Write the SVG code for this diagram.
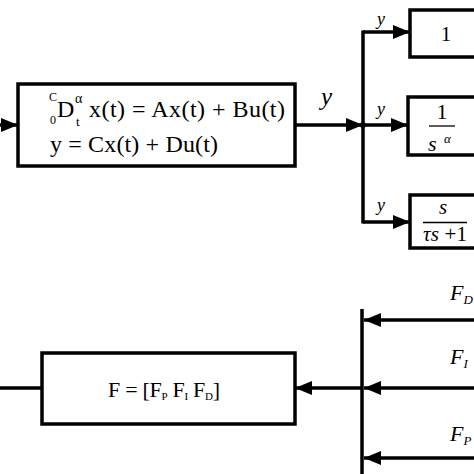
<svg xmlns="http://www.w3.org/2000/svg" width="474" height="474" viewBox="0 0 474 474">
<defs>
<marker id="arr" markerUnits="userSpaceOnUse" markerWidth="18" markerHeight="14" refX="17" refY="7" orient="auto">
<path d="M0,0 L17,7 L0,14 z" fill="#000"/>
</marker>
</defs>
<style>
.box{fill:#fff;stroke:#000;stroke-width:3.5}
.ln{fill:none;stroke:#000;stroke-width:3.5}
.t{font-family:"Liberation Serif","Times New Roman",serif;fill:#000}
.i{font-style:italic}
</style>
<rect width="474" height="474" fill="#fff"/>
<g id="connectors">
<line class="ln" x1="0" y1="125" x2="18" y2="125" marker-end="url(#arr)"/>
<line class="ln" x1="295" y1="125" x2="363" y2="125" marker-end="url(#arr)"/>
<line class="ln" x1="363" y1="30.5" x2="363" y2="223.5"/>
<line class="ln" x1="363" y1="32" x2="410" y2="32" marker-end="url(#arr)"/>
<line class="ln" x1="363" y1="125" x2="408" y2="125" marker-end="url(#arr)"/>
<line class="ln" x1="363" y1="222" x2="410" y2="222" marker-end="url(#arr)"/>
<circle cx="363" cy="125" r="3" fill="#000"/>
<text class="t i" x="321" y="105" font-size="25">y</text>
<text class="t i" x="377" y="25" font-size="18">y</text>
<text class="t i" x="377" y="115" font-size="18">y</text>
<text class="t i" x="377" y="211" font-size="18">y</text>
<line class="ln" x1="0" y1="388" x2="42" y2="388"/>
<line class="ln" x1="362" y1="388" x2="295" y2="388" marker-end="url(#arr)"/>
<line class="ln" x1="362" y1="309" x2="362" y2="474"/>
<line class="ln" x1="474" y1="320" x2="364" y2="320" marker-end="url(#arr)"/>
<line class="ln" x1="474" y1="388" x2="364" y2="388" marker-end="url(#arr)"/>
<line class="ln" x1="474" y1="458" x2="364" y2="458" marker-end="url(#arr)"/>
<text class="t i" x="450" y="300" font-size="22">F<tspan font-size="13" dy="4">D</tspan></text>
<text class="t i" x="450" y="364" font-size="22">F<tspan font-size="13" dy="4">I</tspan></text>
<text class="t i" x="450" y="441" font-size="22">F<tspan font-size="13" dy="4">P</tspan></text>
</g>
<g id="state-space">
<rect class="box" x="18" y="84" width="277" height="82"/>
<text class="t" x="49" y="101" font-size="12">C</text>
<text class="t" x="50" y="124" font-size="12">0</text>
<text class="t" x="57" y="117" font-size="24">D</text>
<text class="t" x="75" y="103" font-size="14">α</text>
<text class="t" x="76" y="126" font-size="13">t</text>
<text class="t" x="89" y="117" font-size="24" textLength="196" lengthAdjust="spacing">x(t) = Ax(t) + Bu(t)</text>
<text class="t" x="50" y="152" font-size="24" textLength="168" lengthAdjust="spacing">y = Cx(t) + Du(t)</text>
</g>
<g id="gain-1">
<rect class="box" x="410" y="10" width="80" height="47"/>
<text class="t" x="446" y="41" font-size="21" text-anchor="middle">1</text>
</g>
<g id="gain-integral">
<rect class="box" x="408" y="97" width="80" height="58"/>
<text class="t" x="442" y="119" font-size="22" text-anchor="middle">1</text>
<line x1="429" y1="126" x2="455" y2="126" stroke="#000" stroke-width="1.3"/>
<text class="t i" x="428" y="151" font-size="22">s</text>
<text class="t i" x="444" y="143" font-size="13">α</text>
</g>
<g id="gain-derivative">
<rect class="box" x="410" y="195" width="80" height="53"/>
<text class="t i" x="443" y="214" font-size="21" text-anchor="middle">s</text>
<line x1="423" y1="222.5" x2="467" y2="222.5" stroke="#000" stroke-width="1.3"/>
<text class="t" x="423" y="241" font-size="21" textLength="44" lengthAdjust="spacing"><tspan font-style="italic">τs</tspan> +1</text>
</g>
<g id="F-box">
<rect class="box" x="42" y="353" width="253" height="71"/>
<text class="t" x="108" y="397" font-size="22" textLength="112" lengthAdjust="spacing">F = [F<tspan font-size="11" dy="3">P</tspan><tspan dy="-3"> F</tspan><tspan font-size="11" dy="3">I</tspan><tspan dy="-3"> F</tspan><tspan font-size="11" dy="3">D</tspan><tspan dy="-3">]</tspan></text>
</g>
</svg>
